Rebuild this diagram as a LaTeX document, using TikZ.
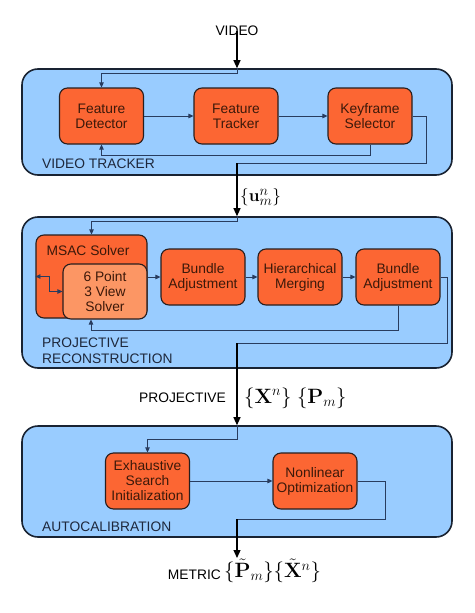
\documentclass[tikz,border=0pt]{standalone}
\usepackage[no-math]{fontspec}
\setmainfont{Liberation Sans}
\usetikzlibrary{arrows.meta,calc}
\definecolor{panelblue}{RGB}{153,204,255}
\definecolor{panelborder}{RGB}{25,35,50}
\definecolor{boxorange}{RGB}{252,102,51}
\definecolor{lightorange}{RGB}{252,150,100}
\definecolor{boxborder}{RGB}{40,30,30}
\definecolor{wire}{RGB}{40,60,95}
\definecolor{labeltext}{RGB}{30,40,60}
\definecolor{boxtextcol}{RGB}{60,25,10}
\tikzset{
  panel/.style={draw=panelborder, line width=1.6pt, fill=panelblue, rounded corners=16pt,
    minimum width=430pt, inner sep=0pt},
  box/.style={draw=boxborder, line width=1.1pt, fill=boxorange, rounded corners=8pt,
    minimum width=84pt, minimum height=56pt, inner sep=0pt, align=center,
    text=boxtextcol, font=\fontsize{13.8}{15}\selectfont},
  lbl/.style={font=\fontsize{13.8}{16}\selectfont, text=labeltext, inner sep=0pt, align=left},
  plain/.style={font=\fontsize{13.8}{16}\selectfont, text=black, inner sep=0pt},
  flow/.style={draw=black, line width=1.2pt, -{Triangle[length=8pt,width=7pt]}},
  wireline/.style={draw=wire, line width=0.8pt},
  wirearrow/.style={draw=wire, line width=0.8pt, -{Triangle[length=5pt,width=4.5pt]}},
}
\begin{document}
\begin{tikzpicture}[x=1pt,y=-1pt]
\useasboundingbox (0,0) rectangle (474,613);
% panels
\node[panel, minimum height=106pt] (p1) at (237,122) {};
\node[panel, minimum height=151pt] (p2) at (237,292.5) {};
\node[panel, minimum height=111pt] (p3) at (237,481.5) {};

% top label
\node[plain] (video) at (237,31) {VIDEO};
\draw[flow] ($(video.south)+(0,-5)$) -- (p1.north);

% panel 1 boxes
\node[box] (fd) at (101.5,116) {Feature\\Detector};
\node[box] (ft) at (236,116) {Feature\\Tracker};
\node[box] (ks) at (370,116) {Keyframe\\Selector};
\node[lbl, anchor=west] (l1) at (42,164) {VIDEO TRACKER};

\draw[wirearrow] (p1.north) -- ++(0,5) -| (fd.north);
\draw[wirearrow] (fd.east) -- (ft.west);
\draw[wirearrow] (ft.east) -- (ks.west);
\coordinate (fb1) at (101.5,155);
\draw[wirearrow] (ks.south) |- (fb1) -- (fd.south);
\coordinate (o1) at (237,163);
\draw[wireline] (ks.east) -- ++(14,0) |- (o1);
\draw[flow] (o1) -- (p2.north);
\node[anchor=west, inner sep=0pt, font=\fontsize{19}{20}\selectfont] (um) at (240,197) {$\{\mathbf{u}_m^n\}$};

% panel 2 boxes
\node[box, minimum width=111pt, minimum height=83pt] (msac) at (91.5,276.5) {};
\node[box, fill=lightorange, minimum height=55pt] (sp) at (105,291.5) {6 Point\\3 View\\Solver};
\node[box, draw=none, fill=none, minimum width=0pt, minimum height=0pt] (msaclbl) at (88,251) {MSAC Solver};
\node[box] (ba1) at (203,277) {Bundle\\Adjustment};
\node[box] (hm) at (300,277) {Hierarchical\\Merging};
\node[box] (ba2) at (398,277) {Bundle\\Adjustment};
\node[lbl, anchor=west] (l2) at (42,351) {PROJECTIVE\\RECONSTRUCTION};

\draw[wirearrow] (p2.north) -- ++(0,5) -| (msac.north);
\draw[draw=wire, line width=0.8pt, {Triangle[length=5pt,width=4.5pt]}-{Triangle[length=5pt,width=4.5pt]}] (msac.west) -- ++(14,0) |- (sp.west);
\draw[wirearrow] (sp.east |- ba1.west) -- (ba1.west);
\draw[wirearrow] (ba1.east) -- (hm.west);
\draw[wirearrow] (hm.east) -- (ba2.west);
\coordinate (fb2) at (91,330);
\draw[wirearrow] (ba2.south) |- (fb2) -- (fb2 |- sp.south);
\coordinate (o2) at (237,343);
\draw[wireline] (ba2.east) -- ++(7,0) |- (o2);
\draw[flow] (o2) -- (p3.north);
\node[plain, anchor=east] (proj) at (226,398) {PROJECTIVE};
\node[anchor=west, inner sep=0pt, font=\fontsize{20}{22}\selectfont] (xp) at (244,398) {$\{\mathbf{X}^n\}\ \{\mathbf{P}_m\}$};

% panel 3 boxes
\node[box] (es) at (147.5,481) {Exhaustive\\Search\\Initialization};
\node[box] (no) at (315,481) {Nonlinear\\Optimization};
\node[lbl, anchor=west] (l3) at (42,527) {AUTOCALIBRATION};

\draw[wirearrow] (p3.north) -- ++(0,14) -| (es.north);
\draw[wirearrow] (es.east) -- (no.west);
\coordinate (o3) at (237,519);
\draw[wireline] (no.east) -- ++(28,0) |- (o3);
\coordinate (mend) at (237,558);
\draw[flow] (o3) -- (mend);
\node[plain, anchor=east] (met) at (221,575) {METRIC};
\node[anchor=west, inner sep=0pt, font=\fontsize{20}{22}\selectfont] (xm) at (224,571) {$\{\tilde{\mathbf{P}}_m\}\{\tilde{\mathbf{X}}^n\}$};
\end{tikzpicture}
\end{document}
